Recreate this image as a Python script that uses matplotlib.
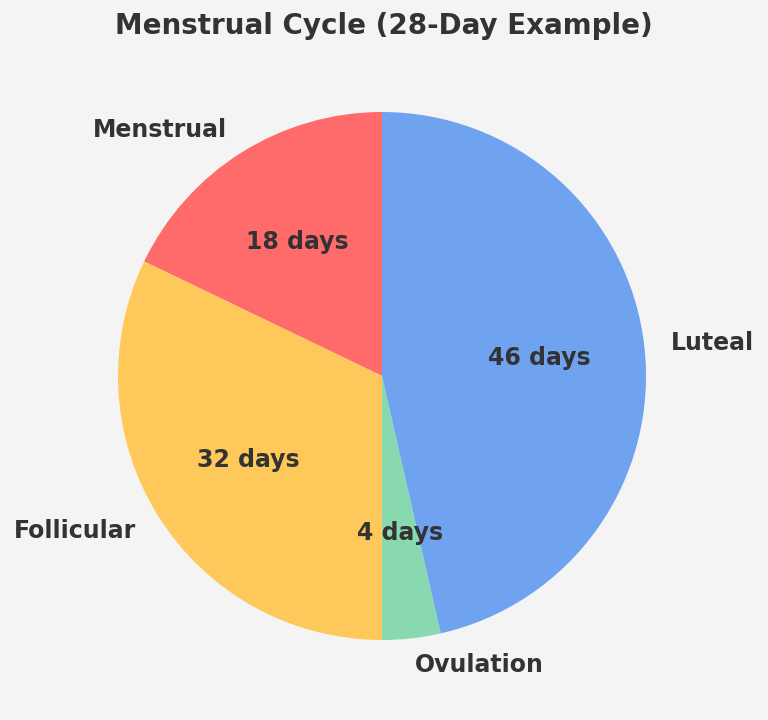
import matplotlib.pyplot as plt

phases = ['Menstrual', 'Follicular', 'Ovulation', 'Luteal']
days = [5, 9, 1, 13]
colors = ['#FF6B6B', '#FFC85A', '#88D8B0', '#6FA3EF']

fig = plt.figure(figsize=(7.68, 7.2), dpi=100, facecolor='#F4F4F4')
ax = fig.add_axes([52 / 768, 14 / 720, 660 / 768, 660 / 720])
ax.set_facecolor('#F4F4F4')

wedges, texts, autotexts = ax.pie(days, labels=phases, colors=colors, startangle=90,
                                  autopct='%.0f days',
                                  textprops={'fontsize': 17, 'fontweight': 'bold', 'color': '#333333'})

fig.text(0.5, 1 - 26 / 720, 'Menstrual Cycle (28-Day Example)', ha='center', va='center',
         fontsize=20, fontweight='bold', color='#333333')

fig.savefig('out.png', dpi=100, facecolor=fig.get_facecolor())
